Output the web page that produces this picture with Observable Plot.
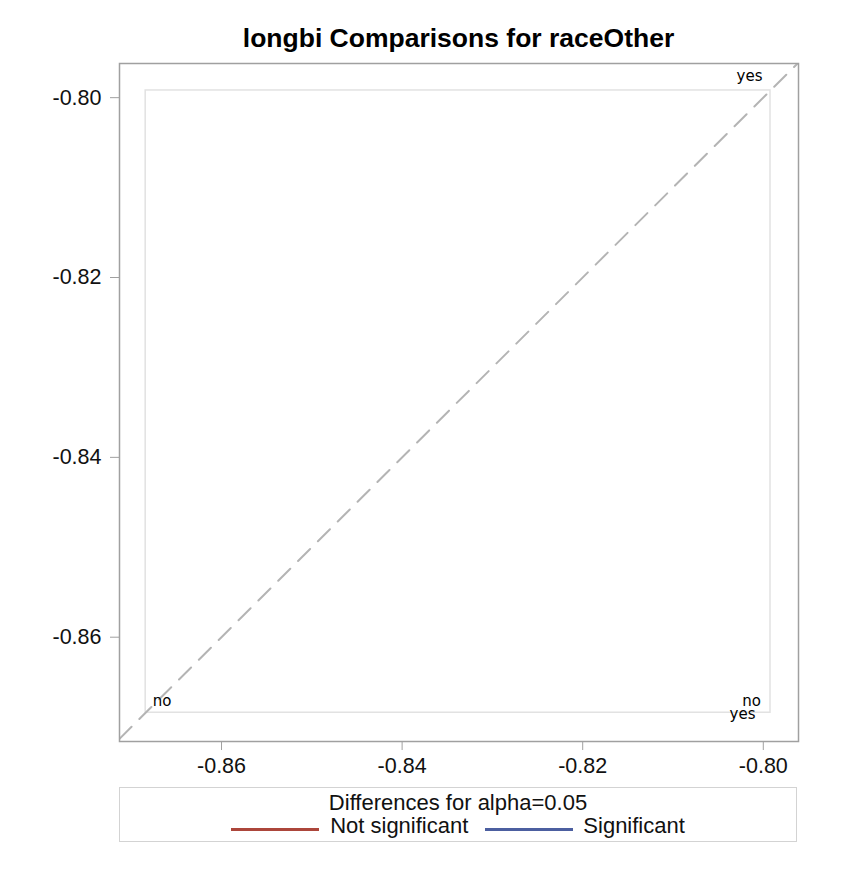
<!DOCTYPE html>
<html>
<head>
<meta charset="utf-8">
<script src="https://cdn.jsdelivr.net/npm/d3@7"></script>
<script src="https://cdn.jsdelivr.net/npm/@observablehq/plot@0.6"></script>
<style>
  body { margin: 0; background: #fff; }
  #wrap { width: 848px; height: 870px; position: relative; background: #fff; }
  #title {
    height: 58px; box-sizing: border-box; padding-top: 24.6px;
    margin-left: 119px; width: 679px; text-align: center;
    font-family: "Liberation Sans", Arial, sans-serif; font-weight: bold;
    font-size: 26.5px; line-height: 1; color: #000; white-space: nowrap;
  }
  #chart svg { display: block; }
  #legend {
    margin-top: 0px; margin-left: 119px; width: 678px; height: 55px;
    box-sizing: border-box; border: 1px solid #d3d3d3; padding-top: 3px;
    font-family: "Liberation Sans", Arial, sans-serif; font-size: 22px;
    line-height: 23px; color: #111;
  }
  #legend .head { text-align: center; }
  #legend .row { display: flex; justify-content: center; align-items: center; height: 23px; }
  #legend .sw { display: inline-block; width: 88px; height: 3px; position: relative; top: 3.5px; }
</style>
</head>
<body>
<div id="wrap">
  <div id="title"></div>
  <div id="chart"></div>
  <div id="legend"></div>
</div>
<script>
// ---- data ----
const titleText = "longbi Comparisons for raceOther";
const levels = ["no", "yes"];
const lsmeans = [-0.8684, -0.7992];
const xDomain = [-0.8713, -0.7961];
const yDomain = [-0.8716, -0.7962];
const tickValues = [-0.86, -0.84, -0.82, -0.80];
const tickLabels = ["-0.86", "-0.84", "-0.82", "-0.80"];
const legendTitle = "Differences for alpha=0.05";
const legendLabels = ["Not significant", "Significant"];
const legendColors = ["#AC463B", "#4C5FA0"];

document.getElementById("title").textContent = titleText;

// corner labels of the LS-means grid
const cornerLabels = [
  {text: levels[0], x: lsmeans[0], y: lsmeans[0], anchor: "start", dx: 7, dy: -7},
  {text: levels[0], x: lsmeans[1], y: lsmeans[0], anchor: "end", dx: -9.5, dy: -6.5},
  {text: levels[1], x: lsmeans[1], y: lsmeans[0], anchor: "end", dx: -15, dy: 6},
  {text: levels[1], x: lsmeans[1], y: lsmeans[1], anchor: "end", dx: -8, dy: -9}
];
const grid = [{x1: lsmeans[0], x2: lsmeans[1], y1: lsmeans[0], y2: lsmeans[1]}];
const fmt = d => tickLabels[tickValues.indexOf(d)] ?? d.toFixed(2);

const textMark = (lab) => Plot.text([lab], {
  x: "x", y: "y", text: "text", textAnchor: lab.anchor, lineAnchor: "bottom",
  dx: lab.dx, dy: lab.dy, fontSize: 15, fontFamily: "DejaVu Sans, sans-serif", fill: "#000"
});

const chart = Plot.plot({
  width: 848,
  height: 729,
  marginLeft: 119,
  marginRight: 50,
  marginTop: 5,
  marginBottom: 46,
  style: {fontFamily: "Liberation Sans, Arial, sans-serif", fontSize: "21.5px", color: "#111", background: "#fff", overflow: "visible"},
  x: {domain: xDomain},
  y: {domain: yDomain},
  marks: [
    Plot.rect(grid, {x1: "x1", x2: "x2", y1: "y1", y2: "y2", fill: "none", stroke: "#e2e2e2", strokeWidth: 1.5}),
    Plot.line(xDomain, {x: d => d, y: d => d, clip: true, stroke: "#b4b4b4", strokeWidth: 2, strokeDasharray: "17,11"}),
    ...cornerLabels.map(textMark),
    Plot.axisX({ticks: tickValues, tickFormat: fmt, tickSize: 9, tickPadding: 7, stroke: "#a0a0a0", fill: "#111", label: null}),
    Plot.axisY({ticks: tickValues, tickFormat: fmt, tickSize: 9, tickPadding: 9, stroke: "#a0a0a0", fill: "#111", label: null}),
    Plot.frame({stroke: "#a0a0a0", strokeWidth: 1.5})
  ]
});
document.getElementById("chart").appendChild(chart);

// legend
const legend = document.getElementById("legend");
const head = document.createElement("div");
head.className = "head";
head.textContent = legendTitle;
legend.appendChild(head);
const row = document.createElement("div");
row.className = "row";
legendLabels.forEach((lab, i) => {
  const sw = document.createElement("span");
  sw.className = "sw";
  sw.style.background = legendColors[i];
  sw.style.marginLeft = i === 0 ? "0px" : "17px";
  sw.style.marginRight = i === 0 ? "11px" : "10px";
  row.appendChild(sw);
  const t = document.createElement("span");
  t.textContent = lab;
  row.appendChild(t);
});
legend.appendChild(row);
</script>
</body>
</html>
